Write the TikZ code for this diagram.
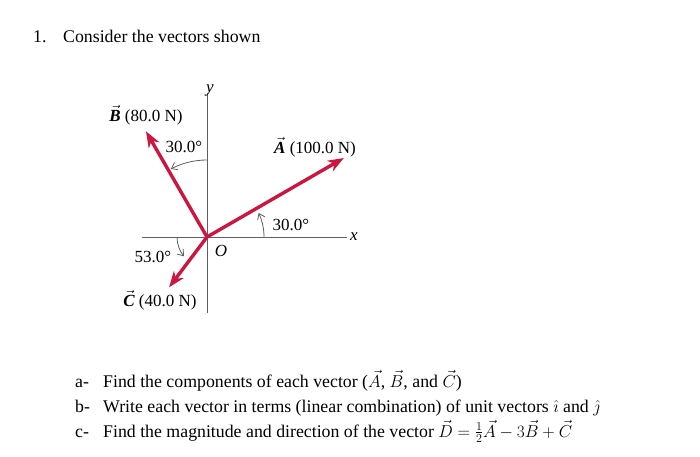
\documentclass[tikz,border=0pt]{standalone}
\usepackage{amsmath}
\usepackage{fontspec}
\setmainfont{Liberation Serif}
\usetikzlibrary{arrows.meta}
\definecolor{vecred}{RGB}{204,22,64}
\definecolor{axisgray}{RGB}{95,95,95}

\newcommand{\bvec}[1]{$\vec{\text{\bfseries\itshape #1}}$}

\begin{document}
\begin{tikzpicture}[x=1pt,y=1pt]
      \tikzset{axis/.style={draw=axisgray,line width=0.7pt}}
      \tikzset{force/.style={draw=vecred,line width=3.4pt,-{Stealth[length=16pt,width=12pt,inset=5pt]}}}
      \tikzset{anglearc/.style={draw=axisgray,line width=0.8pt,-{Straight Barb[length=5.5pt,width=8pt]}}}
      \tikzset{lbl/.style={font=\fontsize{17}{19}\selectfont,inner sep=0pt}}
      \tikzset{txt/.style={font=\fontsize{17.8}{20}\selectfont,inner sep=0pt,anchor=base west}}
      \useasboundingbox (0,0) rectangle (700,456);

      % heading
      \node [txt] (num) at (33,413) {1.};
      \node [txt] (head) at (63,413) {Consider the vectors shown};

      % axes
      \coordinate (O) at (207,219);
      \coordinate (xl) at (142,219);
      \coordinate (xr) at (347,219);
      \coordinate (yb) at (207,143);
      \coordinate (yt) at (207,363);
      \draw [axis] (xl) -- (xr);
      \draw [axis] (yb) -- (yt);
      \node [lbl,anchor=west,font=\fontsize{17}{19}\selectfont\itshape] (xlab) at (350,219) {x};
      \node [lbl,anchor=south,font=\fontsize{17}{19}\selectfont\itshape] (ylab) at (210,360) {y};
      \node [lbl,font=\fontsize{17}{19}\selectfont\itshape] (olab) at (221,205) {O};

      % vectors
      \coordinate (Atip) at ([shift={(30:158)}]O);
      \coordinate (Btip) at ([shift={(120:122)}]O);
      \coordinate (Ctip) at ([shift={(233:63)}]O);
      \draw [force] (O) -- (Atip);
      \draw [force] (O) -- (Btip);
      \draw [force] (O) -- (Ctip);

      % angles
      \draw [anglearc] ([shift={(90:77)}]O) arc[start angle=90,end angle=118,radius=77];
      \draw [anglearc] ([shift={(0:57)}]O) arc[start angle=0,end angle=25,radius=57];
      \draw [anglearc] ([shift={(180:30)}]O) arc[start angle=180,end angle=220,radius=30];
      \node [lbl] (angB) at (184,309) {30.0°};
      \node [lbl] (angA) at (291,231) {30.0°};
      \node [lbl] (angC) at (153,199) {53.0°};

      % vector labels
      \node [lbl] (labB) at (146,341) {\bvec{B} (80.0 N)};
      \node [lbl] (labA) at (315,309) {\bvec{A} (100.0 N)};
      \node [lbl] (labC) at (160,156) {\bvec{C} (40.0 N)};

      % questions
      \node [txt] (qa) at (75,69) {a-};
      \node [txt] (ta) at (103,69) {Find the components of each vector ($\vec{A}$, $\vec{B}$, and $\vec{C}$)};
      \node [txt] (qb) at (75,44) {b-};
      \node [txt] (tb) at (103,44) {Write each vector in terms (linear combination) of unit vectors $\hat{\imath}$ and $\hat{\jmath}$};
      \node [txt] (qc) at (75,19) {c-};
      \node [txt] (tc) at (103,19) {Find the magnitude and direction of the vector $\vec{D}=\tfrac{1}{2}\vec{A}-3\vec{B}+\vec{C}$};
\end{tikzpicture}
\end{document}
